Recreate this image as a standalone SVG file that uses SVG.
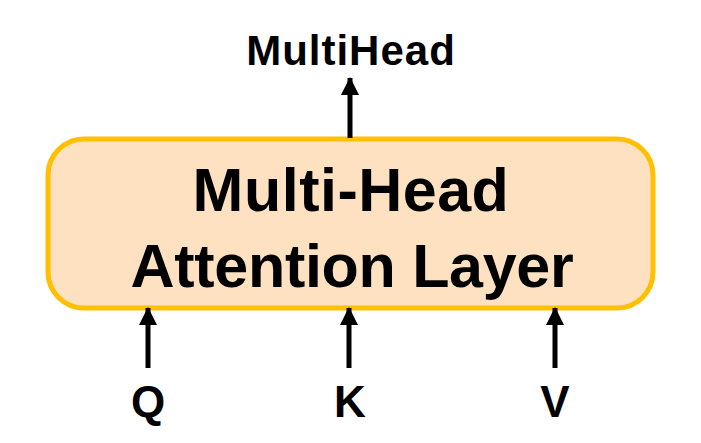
<svg xmlns="http://www.w3.org/2000/svg" width="701" height="443" viewBox="0 0 701 443">
<defs>
<style>
.lbl{font-family:"Liberation Sans",Arial,sans-serif;font-weight:bold;fill:#000;text-anchor:middle}
.arr{stroke:#000;stroke-width:5;fill:none}
</style>
<marker id="ah" markerUnits="userSpaceOnUse" markerWidth="18" markerHeight="18" viewBox="0 0 18 18" refX="17" refY="9" orient="auto">
<path d="M0,0 L18,9 L0,18 Z" fill="#000"/>
</marker>
</defs>
<rect width="701" height="443" fill="#fff"/>
<g id="layer">
<rect x="48" y="139" width="605" height="169" rx="36" ry="36" fill="#fde1c0" stroke="#ffc000" stroke-width="5"/>
<text class="lbl" x="351" y="211" font-size="61" letter-spacing="0.5">Multi-Head</text>
<text class="lbl" x="352" y="287" font-size="61" letter-spacing="-0.3">Attention Layer</text>
</g>
<g id="out"><text class="lbl" x="351" y="65" font-size="42" letter-spacing="1">MultiHead</text></g>
<g id="q"><text class="lbl" x="148" y="417" font-size="44">Q</text></g>
<g id="k"><text class="lbl" x="350" y="417" font-size="44">K</text></g>
<g id="v"><text class="lbl" x="555" y="417" font-size="44">V</text></g>
<g id="connectors">
<line class="arr" x1="350" y1="138" x2="350" y2="78" marker-end="url(#ah)"/>
<line class="arr" x1="148" y1="368" x2="148" y2="308" marker-end="url(#ah)"/>
<line class="arr" x1="349" y1="368" x2="349" y2="308" marker-end="url(#ah)"/>
<line class="arr" x1="555" y1="368" x2="555" y2="308" marker-end="url(#ah)"/>
</g>
</svg>
